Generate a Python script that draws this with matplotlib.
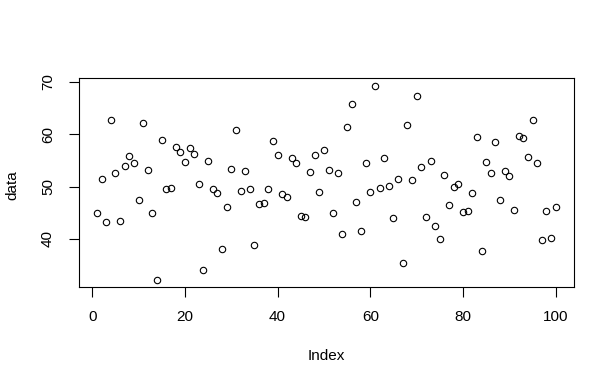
"""Index plot of 100 values, in the style of R's base plot(data)."""
import matplotlib

matplotlib.use("Agg")
import matplotlib.pyplot as plt  # noqa: E402
import numpy as np  # noqa: E402

data = [
    44.96, 51.46, 43.24, 62.73, 52.60, 43.43, 53.94, 55.85, 54.52, 47.51,
    62.16, 53.18, 44.96, 32.22, 58.91, 49.55, 49.74, 57.57, 56.62, 54.71,
    57.38, 56.24, 50.50, 34.13, 54.90, 49.61, 48.78, 38.08, 46.11, 53.37,
    60.82, 49.17, 52.99, 49.55, 38.85, 46.62, 46.87, 49.55, 58.72, 56.05,
    48.59, 48.02, 55.47, 54.52, 44.45, 44.26, 52.80, 56.05, 48.98, 57.00,
    53.18, 44.96, 52.60, 40.95, 61.40, 65.79, 47.06, 41.52, 54.52, 48.98,
    69.23, 49.74, 55.47, 50.12, 44.00, 51.46, 35.41, 61.78, 51.27, 67.32,
    53.75, 44.20, 54.90, 42.48, 40.00, 52.22, 46.49, 49.93, 50.50, 45.15,
    45.34, 48.78, 59.48, 37.70, 54.71, 52.60, 58.53, 47.45, 52.99, 52.03,
    45.53, 59.67, 59.29, 55.66, 62.73, 54.52, 39.80, 45.34, 40.18, 46.11,
]
x_ticks = [0, 20, 40, 60, 80, 100]
y_ticks = [40, 50, 60, 70]

plt.rcParams["font.family"] = ["Liberation Sans", "DejaVu Sans"]
plt.rcParams["font.size"] = 11

values = np.asarray(data)
index = np.arange(1, values.size + 1)

fig = plt.figure(figsize=(6.14, 3.86), dpi=100)
ax = fig.add_axes([0.1279, 0.2557, 0.807, 0.5415])

ax.plot(index, values, linestyle="none", marker="o", markersize=4.6,
        markerfacecolor="none", markeredgecolor="black", markeredgewidth=0.8)


def r_range(lo, hi):
    # R pads the data range by 4% on each side
    pad = 0.04 * (hi - lo)
    return lo - pad, hi + pad


ax.set_xlim(*r_range(index.min(), index.max()))
ax.set_ylim(*r_range(values.min(), values.max()))
ax.set_xticks(x_ticks)
ax.set_yticks(y_ticks)

for side in ax.spines.values():
    side.set_linewidth(0.8)
ax.tick_params(length=7, width=0.8, color="black", labelsize=11)
ax.tick_params(axis="x", pad=9)
ax.tick_params(axis="y", pad=15, labelrotation=90)
plt.setp(ax.get_yticklabels(), ha="center", va="center")

ax.set_xlabel("Index", fontsize=11, va="center")
ax.xaxis.set_label_coords(0.5, -0.329)
ax.set_ylabel("data", fontsize=11, va="center")
ax.yaxis.set_label_coords(-0.1328, 0.49)

fig.savefig("out.png", dpi=100)
